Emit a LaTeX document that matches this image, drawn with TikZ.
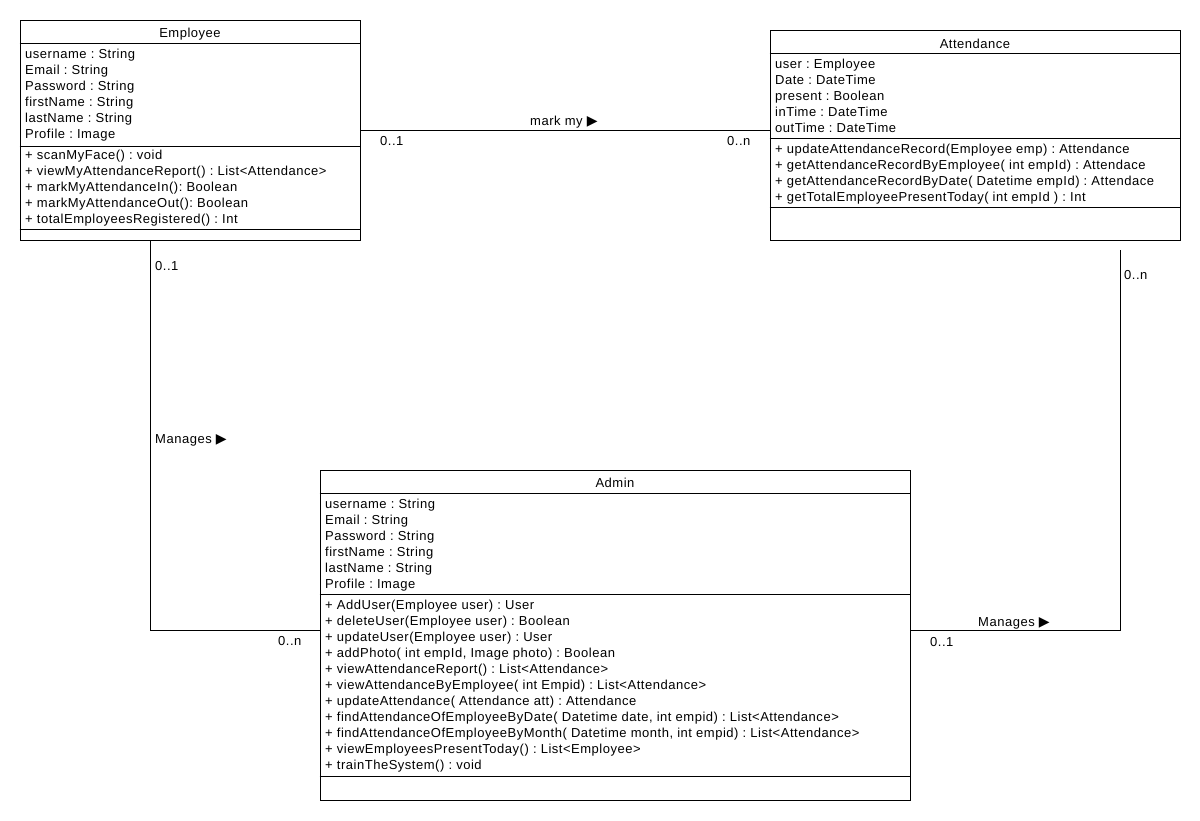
\documentclass[tikz,border=0pt]{standalone}
\usepackage{fontspec}
\setmainfont{Liberation Sans}
\newfontfamily\rowfont[LetterSpace=4]{Liberation Sans}
\newfontfamily\symfont{DejaVu Sans}
\frenchspacing
\begin{document}
\begin{tikzpicture}[x=1pt,y=-1pt]
\tikzset{
  cls/.style={draw, line width=1pt, inner sep=0pt, fill=white},
  sepline/.style={line width=1pt},
  row/.style={anchor=base west, inner sep=0pt, font=\rowfont\fontsize{13}{16}\selectfont},
  ttl/.style={anchor=base, inner sep=0pt, font=\rowfont\fontsize{13}{16}\selectfont},
  conn/.style={line width=1pt},
  lbl/.style={anchor=base west, inner sep=0pt, font=\rowfont\fontsize{13}{16}\selectfont},
}
\newcommand{\tri}{{\symfont\fontsize{14}{14}\selectfont ▶}}
\useasboundingbox (0,0) rectangle (1200,820);

% ---------- Employee ----------
\node[cls, minimum width=340pt, minimum height=220pt] (emp) at (190,130) {};
\draw[sepline] (emp.west |- 0,43) -- (emp.east |- 0,43);
\draw[sepline] (emp.west |- 0,146) -- (emp.east |- 0,146);
\draw[sepline] (emp.west |- 0,229) -- (emp.east |- 0,229);
\node[ttl] (empT) at (190,37.5) {Employee};
\foreach \t [count=\i] in {{username : String},{Email : String},{Password : String},{firstName : String},{lastName : String},{Profile : Image}}
  \node[row] (empA\i) at (25,{42.5+16*\i}) {\t};
\foreach \t [count=\i] in {{+ scanMyFace() : void},{+ viewMyAttendanceReport() : List<Attendance>},{+ markMyAttendanceIn(): Boolean},{+ markMyAttendanceOut(): Boolean},{+ totalEmployeesRegistered() : Int}}
  \node[row] (empM\i) at (25,{143.5+16*\i}) {\t};

% ---------- Attendance ----------
\node[cls, minimum width=410pt, minimum height=210pt] (att) at (975,135) {};
\draw[sepline] (att.west |- 0,53) -- (att.east |- 0,53);
\draw[sepline] (att.west |- 0,138) -- (att.east |- 0,138);
\draw[sepline] (att.west |- 0,207) -- (att.east |- 0,207);
\node[ttl] (attT) at (975,48.5) {Attendance};
\foreach \t [count=\i] in {{user : Employee},{Date : DateTime},{present : Boolean},{inTime : DateTime},{outTime : DateTime}}
  \node[row] (attA\i) at (775,{52.5+16*\i}) {\t};
\foreach \t [count=\i] in {{+ updateAttendanceRecord(Employee emp) : Attendance},{+ getAttendanceRecordByEmployee( int empId) : Attendace},{+ getAttendanceRecordByDate( Datetime empId) : Attendace},{+ getTotalEmployeePresentToday( int empId ) : Int}}
  \node[row] (attM\i) at (775,{137.5+16*\i}) {\t};

% ---------- Admin ----------
\node[cls, minimum width=590pt, minimum height=330pt] (adm) at (615,635) {};
\draw[sepline] (adm.west |- 0,493) -- (adm.east |- 0,493);
\draw[sepline] (adm.west |- 0,594) -- (adm.east |- 0,594);
\draw[sepline] (adm.west |- 0,776) -- (adm.east |- 0,776);
\node[ttl] (admT) at (615,487.5) {Admin};
\foreach \t [count=\i] in {{username : String},{Email : String},{Password : String},{firstName : String},{lastName : String},{Profile : Image}}
  \node[row] (admA\i) at (325,{492.5+16*\i}) {\t};
\foreach \t [count=\i] in {{+ AddUser(Employee user) : User},{+ deleteUser(Employee user) : Boolean},{+ updateUser(Employee user) : User},{+ addPhoto( int empId, Image photo) : Boolean},{+ viewAttendanceReport() : List<Attendance>},{+ viewAttendanceByEmployee( int Empid) : List<Attendance>},{+ updateAttendance( Attendance att) : Attendance},{+ findAttendanceOfEmployeeByDate( Datetime date, int empid) : List<Attendance>},{+ findAttendanceOfEmployeeByMonth( Datetime month, int empid) : List<Attendance>},{+ viewEmployeesPresentToday() : List<Employee>},{+ trainTheSystem() : void}}
  \node[row] (admM\i) at (325,{593.5+16*\i}) {\t};

% ---------- Connectors ----------
\coordinate (attEnd) at (1120,250);
\draw[conn] (emp.east) -- (emp.east -| att.west);
\draw[conn] ([xshift=-40pt]emp.south) |- ([yshift=5pt]adm.west);
\draw[conn] ([yshift=5pt]adm.east) -| (attEnd);

% ---------- Labels ----------
\node[lbl] (l1) at (530,125) {mark my \tri};
\node[lbl] (l2) at (380,145) {0..1};
\node[lbl] (l3) at (727,145) {0..n};
\node[lbl] (l4) at (155,270) {0..1};
\node[lbl] (l5) at (155,443) {Manages \tri};
\node[lbl] (l6) at (278,645) {0..n};
\node[lbl] (l7) at (978,626) {Manages \tri};
\node[lbl] (l8) at (930,646) {0..1};
\node[lbl] (l9) at (1124,279) {0..n};
\end{tikzpicture}
\end{document}
